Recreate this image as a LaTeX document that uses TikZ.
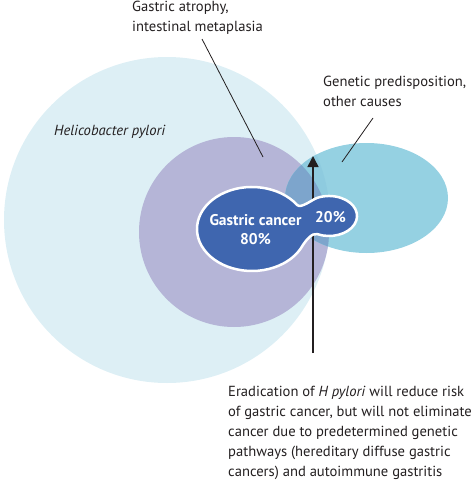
\documentclass[tikz,border=0pt]{standalone}
\usepackage{fontspec}
\setmainfont{PT Sans}
\usetikzlibrary{arrows.meta}
\definecolor{hpblue}{HTML}{DDEFF5}
\definecolor{atro}{HTML}{B5B5D7}
\definecolor{gen}{HTML}{95D1E2}
\definecolor{genhp}{HTML}{8ECBDF}
\definecolor{genatro}{HTML}{7DA5CC}
\definecolor{cancer}{HTML}{3F66AF}
\definecolor{txt}{HTML}{231F20}
\begin{document}
\begin{tikzpicture}[x=1pt,y=-1pt,
  lbl/.style={anchor=base west, inner sep=0pt, align=left, text=txt, font=\fontsize{14.6}{20}\selectfont},
  inlbl/.style={anchor=base, inner sep=0pt, align=center, text=white, font=\fontsize{15.5}{18.5}\selectfont\bfseries},
  leader/.style={draw=txt, line width=0.8pt},
  bigarrow/.style={draw=txt, line width=1.5pt, -{Triangle[width=11pt,length=11pt]}}]
\useasboundingbox (0,0) rectangle (474,482);
% sets
\fill[hpblue] (167,220) circle[radius=163];
\fill[atro] (234,232) circle[radius=95];
\fill[gen] (366.5,198) ellipse[x radius=81.5, y radius=55];
\begin{scope}
  \clip (167,220) circle[radius=163];
  \fill[genhp] (366.5,198) ellipse[x radius=81.5, y radius=55];
\end{scope}
\begin{scope}
  \clip (234,232) circle[radius=95];
  \fill[genatro] (366.5,198) ellipse[x radius=81.5, y radius=55];
\end{scope}
% arrow
\coordinate (arrbot) at (313,353);
\coordinate (arrtop) at (313,156);
\draw[bigarrow] (arrbot) -- (arrtop);
% cancer blob
\draw[white, line width=2.5pt, fill=cancer]
  (297.05,204.9) arc[start angle=-35, end angle=-335, x radius=55, y radius=42]
  .. controls (305.3,241) and (312.1,232.4) .. (317.2,234.1)
  arc[start angle=115, end angle=-115, x radius=28, y radius=20]
  .. controls (312.1,199.6) and (300.8,209) .. cycle;
\node[inlbl] (gc) at (255.5,244) {Gastric cancer\\80\%};
\node[inlbl] (pc) at (330.5,222.5) {20\%};
% labels
\node[lbl] (hp) at (54,135.5) {\textit{Helicobacter pylori}};
\node[lbl] (ga) at (132,31) {Gastric atrophy,\\intestinal metaplasia};
\node[lbl] (gp) at (323,106) {Genetic predisposition,\\other causes};
\node[lbl] (er) at (228,476) {Eradication of \textit{H pylori} will reduce risk\\of gastric cancer, but will not eliminate\\cancer due to predetermined genetic\\pathways (hereditary diffuse gastric\\cancers) and autoimmune gastritis};
% leader lines
\coordinate (ga1) at (202,39);
\coordinate (ga2) at (263,157);
\draw[leader] (ga1) -- (ga2);
\coordinate (gp1) at (373,118);
\coordinate (gp2) at (342,162);
\draw[leader] (gp1) -- (gp2);
\end{tikzpicture}
\end{document}
